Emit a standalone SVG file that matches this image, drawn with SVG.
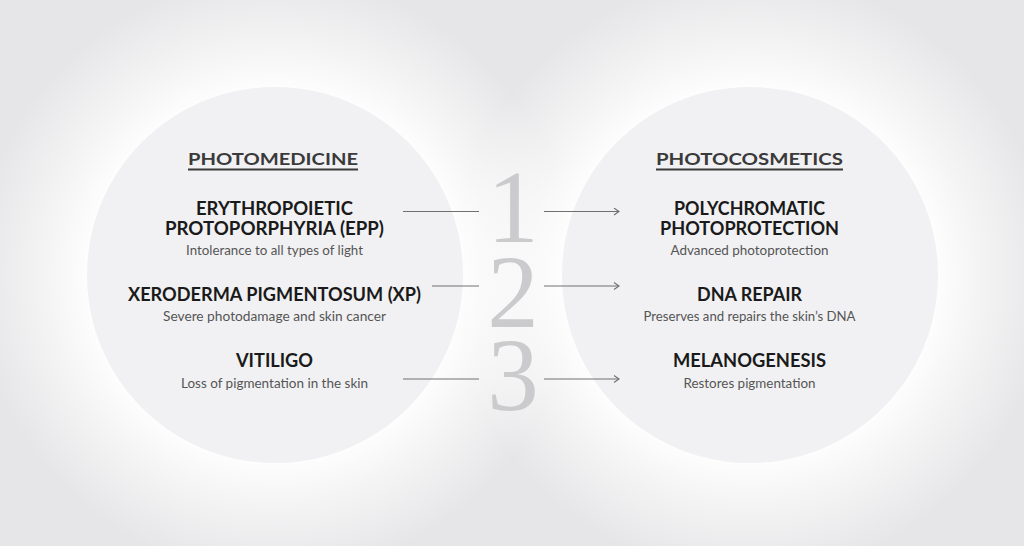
<svg xmlns="http://www.w3.org/2000/svg" width="1024" height="546" viewBox="0 0 1024 546">
  <defs>
    <radialGradient id="haloL" gradientUnits="userSpaceOnUse" cx="275" cy="275" r="300">
      <stop offset="0.6" stop-color="#ffffff" stop-opacity="1"/>
      <stop offset="0.75" stop-color="#ffffff" stop-opacity="0.6"/>
      <stop offset="1" stop-color="#ffffff" stop-opacity="0"/>
    </radialGradient>
    <radialGradient id="haloR" gradientUnits="userSpaceOnUse" cx="750" cy="275" r="300">
      <stop offset="0.6" stop-color="#ffffff" stop-opacity="1"/>
      <stop offset="0.75" stop-color="#ffffff" stop-opacity="0.6"/>
      <stop offset="1" stop-color="#ffffff" stop-opacity="0"/>
    </radialGradient>
    <marker id="arrow" markerUnits="userSpaceOnUse" markerWidth="10" markerHeight="10" refX="6" refY="4" orient="auto">
      <path d="M1,0.5 L6,4 L1,7.5" fill="none" stroke="#707070" stroke-width="1.1"/>
    </marker>
    <style>
      .head { font-family: "Source Sans Pro", "Lato", "Noto Sans", sans-serif; font-weight: 700; font-size: 17px; fill: #3a3a3a; text-anchor: middle; }
      .title { font-family: "Source Sans Pro", "Lato", "Noto Sans", sans-serif; font-weight: 700; font-size: 19px; fill: #1a1a1a; text-anchor: middle; }
      .sub { font-family: "Source Sans Pro", "Lato", "Noto Sans", sans-serif; font-weight: 400; font-size: 13.5px; fill: #555555; text-anchor: middle; }
      .num { font-family: "Liberation Serif", "Times New Roman", serif; font-size: 103px; fill: #cbcbcd; text-anchor: middle; }
      .uline { stroke: #3a3a3a; stroke-width: 1.8; }
      .conn { stroke: #707070; stroke-width: 1.2; fill: none; }
      .circle { fill: #f1f1f3; }
    </style>
  </defs>

  <rect x="0" y="0" width="1024" height="546" fill="#e6e6e8"/>
  <circle cx="275" cy="275" r="300" fill="url(#haloL)"/>
  <circle cx="750" cy="275" r="300" fill="url(#haloR)"/>

  <g id="circle-left">
    <circle class="circle" cx="275" cy="275" r="188"/>
  </g>
  <g id="circle-right">
    <circle class="circle" cx="750" cy="275" r="188"/>
  </g>

  <g id="numbers">
    <text class="num" x="513" y="242">1</text>
    <text class="num" x="513" y="327">2</text>
    <text class="num" x="513" y="410">3</text>
  </g>

  <g id="photomedicine">
    <text class="head" x="273" y="164.5" textLength="170" lengthAdjust="spacingAndGlyphs">PHOTOMEDICINE</text>
    <line class="uline" x1="188" y1="169.5" x2="358" y2="169.5"/>
  </g>
  <g id="epp">
    <text class="title" x="274.5" y="215" textLength="157" lengthAdjust="spacingAndGlyphs">ERYTHROPOIETIC</text>
    <text class="title" x="274.5" y="234.5" textLength="219" lengthAdjust="spacingAndGlyphs">PROTOPORPHYRIA (EPP)</text>
    <text class="sub" x="274.5" y="255" textLength="177" lengthAdjust="spacingAndGlyphs">Intolerance to all types of light</text>
  </g>
  <g id="xp">
    <text class="title" x="274.5" y="301" textLength="293" lengthAdjust="spacingAndGlyphs">XERODERMA PIGMENTOSUM (XP)</text>
    <text class="sub" x="274.5" y="321" textLength="223" lengthAdjust="spacingAndGlyphs">Severe photodamage and skin cancer</text>
  </g>
  <g id="vitiligo">
    <text class="title" x="274.5" y="366.5" textLength="77" lengthAdjust="spacingAndGlyphs">VITILIGO</text>
    <text class="sub" x="274.5" y="387.5" textLength="187" lengthAdjust="spacingAndGlyphs">Loss of pigmentation in the skin</text>
  </g>

  <g id="photocosmetics">
    <text class="head" x="749.5" y="164.5" textLength="187" lengthAdjust="spacingAndGlyphs">PHOTOCOSMETICS</text>
    <line class="uline" x1="656" y1="169.5" x2="843" y2="169.5"/>
  </g>
  <g id="polychromatic">
    <text class="title" x="749.5" y="215" textLength="151" lengthAdjust="spacingAndGlyphs">POLYCHROMATIC</text>
    <text class="title" x="749.5" y="234.5" textLength="179" lengthAdjust="spacingAndGlyphs">PHOTOPROTECTION</text>
    <text class="sub" x="749.5" y="255" textLength="158" lengthAdjust="spacingAndGlyphs">Advanced photoprotection</text>
  </g>
  <g id="dna-repair">
    <text class="title" x="749.5" y="301" textLength="105" lengthAdjust="spacingAndGlyphs">DNA REPAIR</text>
    <text class="sub" x="749.5" y="321" textLength="212" lengthAdjust="spacingAndGlyphs">Preserves and repairs the skin’s DNA</text>
  </g>
  <g id="melanogenesis">
    <text class="title" x="749.5" y="366.5" textLength="153" lengthAdjust="spacingAndGlyphs">MELANOGENESIS</text>
    <text class="sub" x="749.5" y="387.5" textLength="132" lengthAdjust="spacingAndGlyphs">Restores pigmentation</text>
  </g>

  <g id="connectors">
    <line class="conn" x1="403" y1="211.5" x2="479" y2="211.5"/>
    <line class="conn" x1="432" y1="286" x2="479" y2="286"/>
    <line class="conn" x1="403" y1="379" x2="479" y2="379"/>
    <line class="conn" x1="544" y1="211.5" x2="619" y2="211.5" marker-end="url(#arrow)"/>
    <line class="conn" x1="544" y1="286" x2="619" y2="286" marker-end="url(#arrow)"/>
    <line class="conn" x1="544" y1="379" x2="619" y2="379" marker-end="url(#arrow)"/>
  </g>
</svg>
